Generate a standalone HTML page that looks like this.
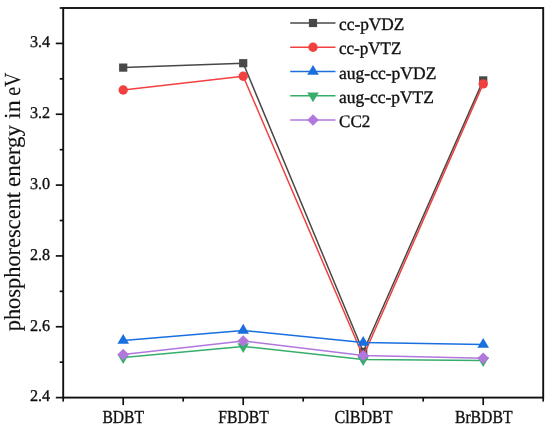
<!DOCTYPE html>
<html><head><meta charset="utf-8"><style>
html,body{margin:0;padding:0;background:#fff;}
svg{display:block;}
text{text-rendering:geometricPrecision;font-family:"Liberation Serif",serif;fill:#111;stroke:#111;stroke-width:0.35px;}
</style></head><body>
<svg width="550" height="433" viewBox="0 0 550 433">
<rect width="550" height="433" fill="#fff"/>
<polyline points="123.20,67.60 243.20,63.20 363.20,351.80 483.20,80.40" fill="none" stroke="#484848" stroke-width="1.5" stroke-linejoin="round"/>
<rect x="119.10" y="63.50" width="8.2" height="8.2" fill="#484848"/>
<rect x="239.10" y="59.10" width="8.2" height="8.2" fill="#484848"/>
<rect x="359.10" y="347.70" width="8.2" height="8.2" fill="#484848"/>
<rect x="479.10" y="76.30" width="8.2" height="8.2" fill="#484848"/>
<polyline points="123.20,90.00 243.20,76.20 363.20,356.50 483.20,83.90" fill="none" stroke="#F14040" stroke-width="1.5" stroke-linejoin="round"/>
<circle cx="123.20" cy="90.00" r="4.7" fill="#F14040"/>
<circle cx="243.20" cy="76.20" r="4.7" fill="#F14040"/>
<circle cx="363.20" cy="356.50" r="4.7" fill="#F14040"/>
<circle cx="483.20" cy="83.90" r="4.7" fill="#F14040"/>
<polyline points="123.20,340.60 243.20,330.40 363.20,342.60 483.20,344.60" fill="none" stroke="#1A6FDF" stroke-width="1.5" stroke-linejoin="round"/>
<path d="M123.20,334.07L129.00,343.87L117.40,343.87Z" fill="#1A6FDF"/>
<path d="M243.20,323.87L249.00,333.67L237.40,333.67Z" fill="#1A6FDF"/>
<path d="M363.20,336.07L369.00,345.87L357.40,345.87Z" fill="#1A6FDF"/>
<path d="M483.20,338.07L489.00,347.87L477.40,347.87Z" fill="#1A6FDF"/>
<polyline points="123.20,357.50 243.20,346.40 363.20,359.40 483.20,360.50" fill="none" stroke="#37AD6B" stroke-width="1.5" stroke-linejoin="round"/>
<path d="M123.20,364.03L129.00,354.23L117.40,354.23Z" fill="#37AD6B"/>
<path d="M243.20,352.93L249.00,343.13L237.40,343.13Z" fill="#37AD6B"/>
<path d="M363.20,365.93L369.00,356.13L357.40,356.13Z" fill="#37AD6B"/>
<path d="M483.20,367.03L489.00,357.23L477.40,357.23Z" fill="#37AD6B"/>
<polyline points="123.20,354.60 243.20,341.00 363.20,355.50 483.20,358.20" fill="none" stroke="#B177DE" stroke-width="1.5" stroke-linejoin="round"/>
<path d="M123.20,348.80L129.00,354.60L123.20,360.40L117.40,354.60Z" fill="#B177DE"/>
<path d="M243.20,335.20L249.00,341.00L243.20,346.80L237.40,341.00Z" fill="#B177DE"/>
<path d="M363.20,349.70L369.00,355.50L363.20,361.30L357.40,355.50Z" fill="#B177DE"/>
<path d="M483.20,352.40L489.00,358.20L483.20,364.00L477.40,358.20Z" fill="#B177DE"/>
<rect x="63.20" y="8.00" width="480" height="389.60" fill="none" stroke="#111" stroke-width="1.9"/>
<line x1="55.80" y1="397.60" x2="63.20" y2="397.60" stroke="#111" stroke-width="1.7"/>
<line x1="59.70" y1="362.18" x2="63.20" y2="362.18" stroke="#111" stroke-width="1.7"/>
<line x1="55.80" y1="326.76" x2="63.20" y2="326.76" stroke="#111" stroke-width="1.7"/>
<line x1="59.70" y1="291.35" x2="63.20" y2="291.35" stroke="#111" stroke-width="1.7"/>
<line x1="55.80" y1="255.93" x2="63.20" y2="255.93" stroke="#111" stroke-width="1.7"/>
<line x1="59.70" y1="220.51" x2="63.20" y2="220.51" stroke="#111" stroke-width="1.7"/>
<line x1="55.80" y1="185.09" x2="63.20" y2="185.09" stroke="#111" stroke-width="1.7"/>
<line x1="59.70" y1="149.67" x2="63.20" y2="149.67" stroke="#111" stroke-width="1.7"/>
<line x1="55.80" y1="114.25" x2="63.20" y2="114.25" stroke="#111" stroke-width="1.7"/>
<line x1="59.70" y1="78.84" x2="63.20" y2="78.84" stroke="#111" stroke-width="1.7"/>
<line x1="55.80" y1="43.42" x2="63.20" y2="43.42" stroke="#111" stroke-width="1.7"/>
<line x1="59.70" y1="8.00" x2="63.20" y2="8.00" stroke="#111" stroke-width="1.7"/>
<line x1="63.20" y1="397.60" x2="63.20" y2="401.60" stroke="#111" stroke-width="1.7"/>
<line x1="123.20" y1="397.60" x2="123.20" y2="405.10" stroke="#111" stroke-width="1.7"/>
<line x1="183.20" y1="397.60" x2="183.20" y2="401.60" stroke="#111" stroke-width="1.7"/>
<line x1="243.20" y1="397.60" x2="243.20" y2="405.10" stroke="#111" stroke-width="1.7"/>
<line x1="303.20" y1="397.60" x2="303.20" y2="401.60" stroke="#111" stroke-width="1.7"/>
<line x1="363.20" y1="397.60" x2="363.20" y2="405.10" stroke="#111" stroke-width="1.7"/>
<line x1="423.20" y1="397.60" x2="423.20" y2="401.60" stroke="#111" stroke-width="1.7"/>
<line x1="483.20" y1="397.60" x2="483.20" y2="405.10" stroke="#111" stroke-width="1.7"/>
<line x1="543.20" y1="397.60" x2="543.20" y2="401.60" stroke="#111" stroke-width="1.7"/>
<text x="50.1" y="401.40" text-anchor="end" font-size="16.5" textLength="20.2" lengthAdjust="spacingAndGlyphs">2.4</text>
<text x="50.1" y="330.56" text-anchor="end" font-size="16.5" textLength="20.2" lengthAdjust="spacingAndGlyphs">2.6</text>
<text x="50.1" y="259.73" text-anchor="end" font-size="16.5" textLength="20.2" lengthAdjust="spacingAndGlyphs">2.8</text>
<text x="50.1" y="188.89" text-anchor="end" font-size="16.5" textLength="20.2" lengthAdjust="spacingAndGlyphs">3.0</text>
<text x="50.1" y="118.05" text-anchor="end" font-size="16.5" textLength="20.2" lengthAdjust="spacingAndGlyphs">3.2</text>
<text x="50.1" y="47.22" text-anchor="end" font-size="16.5" textLength="20.2" lengthAdjust="spacingAndGlyphs">3.4</text>
<text x="102.40" y="422.5" font-size="18.4" textLength="41.70" lengthAdjust="spacingAndGlyphs">BDBT</text>
<text x="218.30" y="422.5" font-size="18.4" textLength="50.50" lengthAdjust="spacingAndGlyphs">FBDBT</text>
<text x="334.50" y="422.5" font-size="18.4" textLength="58.10" lengthAdjust="spacingAndGlyphs">ClBDBT</text>
<text x="454.90" y="422.5" font-size="18.4" textLength="57.70" lengthAdjust="spacingAndGlyphs">BrBDBT</text>
<text transform="translate(20.3,331.3) rotate(-90)" font-size="23" style="stroke-width:0.12px" textLength="139.3" lengthAdjust="spacingAndGlyphs">phosphorescent</text>
<text transform="translate(20.3,187.0) rotate(-90)" font-size="23" style="stroke-width:0.12px" textLength="62.0" lengthAdjust="spacingAndGlyphs">energy</text>
<text transform="translate(20.3,119.0) rotate(-90)" font-size="23" style="stroke-width:0.12px" textLength="18.7" lengthAdjust="spacingAndGlyphs">in</text>
<text transform="translate(20.3,95.8) rotate(-90)" font-size="23" style="stroke-width:0.12px" textLength="23.4" lengthAdjust="spacingAndGlyphs">eV</text>
<line x1="290.2" y1="23.00" x2="335.5" y2="23.00" stroke="#484848" stroke-width="1.5"/>
<rect x="308.90" y="18.90" width="8.2" height="8.2" fill="#484848"/>
<text x="339.0" y="30.10" font-size="17.5" textLength="65.4" lengthAdjust="spacingAndGlyphs">cc-pVDZ</text>
<line x1="290.2" y1="47.25" x2="335.5" y2="47.25" stroke="#F14040" stroke-width="1.5"/>
<circle cx="313.00" cy="47.25" r="4.7" fill="#F14040"/>
<text x="339.0" y="54.35" font-size="17.5" textLength="62.4" lengthAdjust="spacingAndGlyphs">cc-pVTZ</text>
<line x1="290.2" y1="71.50" x2="335.5" y2="71.50" stroke="#1A6FDF" stroke-width="1.5"/>
<path d="M313.00,64.97L318.80,74.77L307.20,74.77Z" fill="#1A6FDF"/>
<text x="339.0" y="78.60" font-size="17.5" textLength="97.4" lengthAdjust="spacingAndGlyphs">aug-cc-pVDZ</text>
<line x1="290.2" y1="95.75" x2="335.5" y2="95.75" stroke="#37AD6B" stroke-width="1.5"/>
<path d="M313.00,102.28L318.80,92.48L307.20,92.48Z" fill="#37AD6B"/>
<text x="339.0" y="102.85" font-size="17.5" textLength="94.8" lengthAdjust="spacingAndGlyphs">aug-cc-pVTZ</text>
<line x1="290.2" y1="120.00" x2="335.5" y2="120.00" stroke="#B177DE" stroke-width="1.5"/>
<path d="M313.00,114.20L318.80,120.00L313.00,125.80L307.20,120.00Z" fill="#B177DE"/>
<text x="339.0" y="127.10" font-size="17.5" textLength="31.3" lengthAdjust="spacingAndGlyphs">CC2</text>
</svg>
</body></html>
